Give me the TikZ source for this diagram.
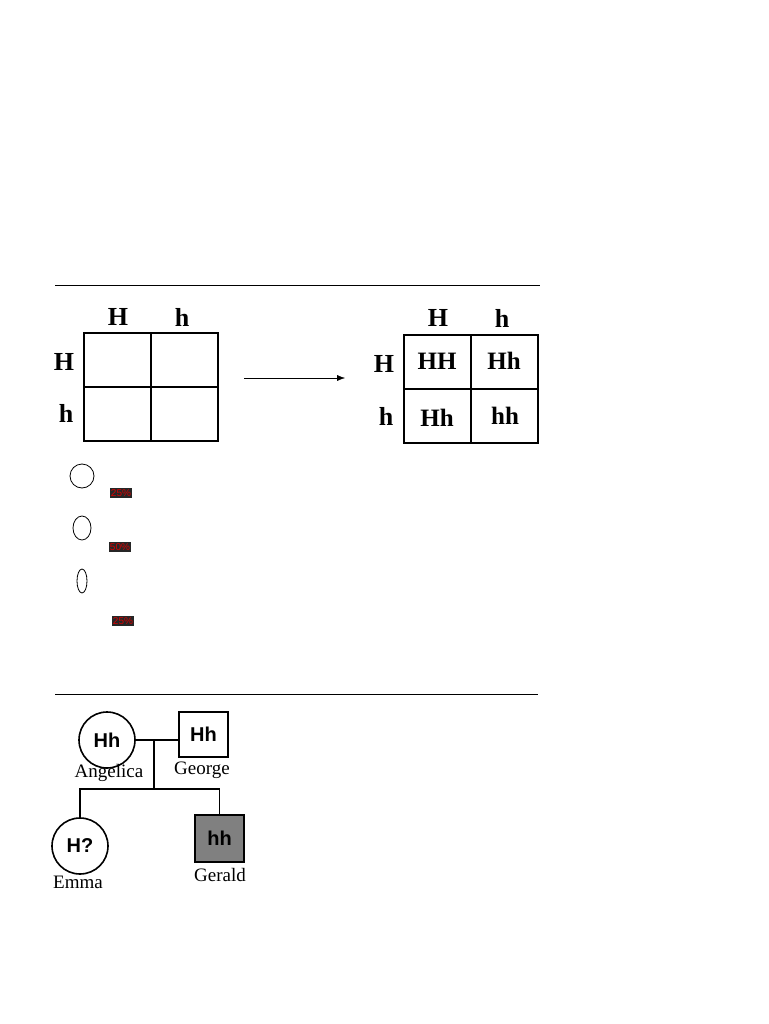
\documentclass[tikz,border=0pt]{standalone}
\usepackage{fontspec}
\setmainfont{Liberation Serif}
\newfontfamily\arial{Liberation Sans}
\usetikzlibrary{arrows.meta}
\begin{document}
\begin{tikzpicture}[x=1pt,y=-1pt,
 grid/.style={line width=1.5pt},
 lab/.style={font=\fontsize{26}{26}\selectfont\bfseries},
 cell/.style={font=\fontsize{25}{25}\selectfont\bfseries},
 pct/.style={fill=black!85,text=red!85!black,font=\arial\fontsize{10}{10}\selectfont,inner sep=1pt},
 ped/.style={draw,line width=1.6pt,font=\arial\fontsize{20}{20}\selectfont\bfseries},
 pname/.style={font=\fontsize{19}{19}\selectfont},
 lk/.style={line width=1.6pt}]
\useasboundingbox (0,0) rectangle (768,1024);
\draw (55,285) -- (540,285);
\draw (55,694) -- (538,694);
% left grid
\draw[grid] (84,333) rectangle (218,441) (151,333) -- (151,441) (84,387) -- (218,387);
\node[lab] at (118,317) {H};
\node[lab] at (182,317) {h};
\node[lab] at (64,362) {H};
\node[lab] at (66,413) {h};
\coordinate (a1) at (244,378); \coordinate (a2) at (345,378);
\draw[-{Latex[length=8pt,width=6pt]}] (a1) -- (a2);
% right grid
\draw[grid] (404,335) rectangle (538,443) (471,335) -- (471,443) (404,389) -- (538,389);
\node[lab] at (438,318) {H};
\node[lab] at (502,318) {h};
\node[lab] at (384,364) {H};
\node[lab] at (386,416) {h};
\node[cell] at (437,361) {HH};
\node[cell] at (504,361) {Hh};
\node[cell] at (437,418) {Hh};
\node[cell] at (505,416) {hh};
% ovals
\draw[line width=0.8pt] (82,476) ellipse [x radius=12, y radius=12];
\draw[line width=0.8pt] (82,528) ellipse [x radius=9, y radius=12];
\draw[line width=0.8pt] (82,581) ellipse [x radius=5, y radius=12];
\node[pct] at (121,493) {25\%};
\node[pct] at (120,547) {50\%};
\node[pct] at (123,621) {25\%};
% pedigree
\node[ped,circle,minimum size=56pt,inner sep=0] (ang) at (107,740) {Hh};
\node[ped,minimum width=49pt,minimum height=45pt,inner sep=0] (geo) at (203.5,734.5) {Hh};
\node[ped,circle,minimum size=56pt,inner sep=0] (emm) at (80,846) {H?};
\node[ped,fill=black!50,minimum width=49pt,minimum height=47pt,inner sep=0] (ger) at (219.5,838.5) {hh};
\node[pname] at (109,773) {Angelica};
\node[pname] at (202,770) {George};
\node[pname] at (78,882) {Emma};
\node[pname] at (220,875) {Gerald};
\coordinate (m) at (154,740);
\coordinate (s) at (154,789);
\draw[lk] (ang) -- (geo.west |- m);
\draw[lk] (m) -- (s);
\draw[lk] (emm.north) |- (s) -| (ger.north);
\end{tikzpicture}
\end{document}
